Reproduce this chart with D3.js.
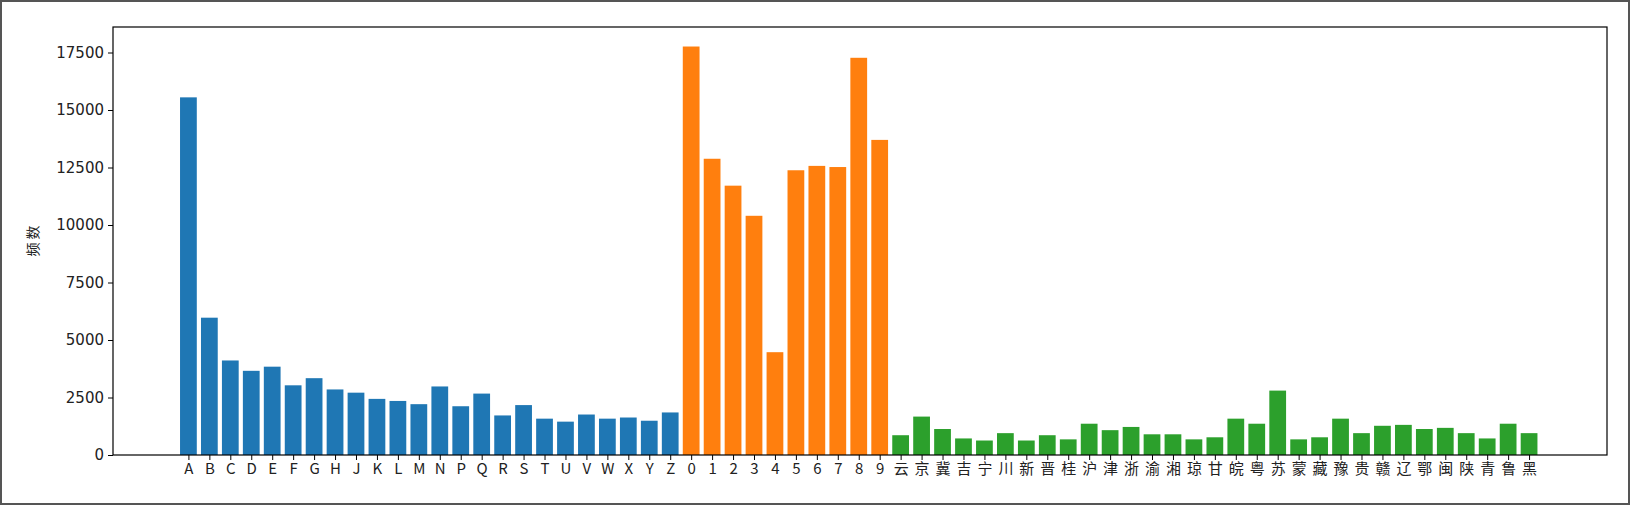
<!DOCTYPE html>
<html>
<head>
<meta charset="utf-8">
<script src="https://cdn.jsdelivr.net/npm/d3@7"></script>
<style>
  body { margin: 0; background: #fff; }
  svg text { font-family: "DejaVu Sans", sans-serif; fill: #222; }
</style>
</head>
<body>
<svg id="chart" width="1630" height="505"></svg>
<script>
// categories and frequencies
const letters = ["A","B","C","D","E","F","G","H","J","K","L","M","N","P","Q","R","S","T","U","V","W","X","Y","Z"];
const letterCounts = [15550,5970,4110,3660,3840,3030,3340,2850,2710,2440,2350,2210,2980,2120,2670,1720,2170,1580,1450,1760,1580,1630,1490,1850];
const digits = ["0","1","2","3","4","5","6","7","8","9"];
const digitCounts = [17760,12880,11710,10400,4470,12380,12570,12520,17270,13700];
const provinces = ["云","京","冀","吉","宁","川","新","晋","桂","沪","津","浙","渝","湘","琼","甘","皖","粤","苏","蒙","藏","豫","贵","赣","辽","鄂","闽","陕","青","鲁","黑"];
const provinceCounts = [860,1670,1130,720,630,950,630,860,680,1360,1080,1220,900,900,680,770,1580,1360,2800,680,770,1580,950,1270,1310,1130,1180,950,720,1360,950];
const yTicks = [0,2500,5000,7500,10000,12500,15000,17500];

const groups = [
  { labels: letters, values: letterCounts, color: "#1f77b4" },
  { labels: digits, values: digitCounts, color: "#ff7f0e" },
  { labels: provinces, values: provinceCounts, color: "#2ca02c" }
];

const bars = [];
groups.forEach(g => g.labels.forEach((l, i) => bars.push({ label: l, value: g.values[i], color: g.color })));
bars.forEach((d, i) => d.index = i);

const svg = d3.select("#chart");
const m = { left: 113, right: 1607, top: 27, bottom: 455 };

svg.append("rect").attr("x", 1).attr("y", 1).attr("width", 1628).attr("height", 503)
  .attr("fill", "none").attr("stroke", "#555").attr("stroke-width", 2);

const x = d3.scaleLinear().domain([-3.6, bars.length - 1 + 3.72]).range([m.left, m.right]);
const y = d3.scaleLinear().domain([0, 17500]).range([m.bottom, 52.5]);
const bw = (x(1) - x(0)) * 0.8;

svg.selectAll(".bar")
  .data(bars)
  .join("rect")
  .attr("class", "bar")
  .attr("x", d => x(d.index) - bw / 2)
  .attr("width", bw)
  .attr("y", d => y(d.value))
  .attr("height", d => m.bottom - y(d.value))
  .attr("fill", d => d.color);

// y axis
const yAxis = svg.append("g")
  .attr("transform", `translate(${m.left},0)`)
  .call(d3.axisLeft(y).tickValues(yTicks).tickSize(5).tickPadding(4).tickFormat(d3.format("d")));
yAxis.select(".domain").remove();
yAxis.selectAll("text").style("font-size", "15px");

// x axis
const xAxis = svg.append("g")
  .attr("transform", `translate(0,${m.bottom})`)
  .call(d3.axisBottom(x).tickValues(bars.map(d => d.index)).tickSize(5).tickPadding(3)
    .tickFormat(i => bars[i].label));
xAxis.select(".domain").remove();
xAxis.selectAll("text")
  .style("font-family", "'Noto Sans CJK SC', sans-serif")
  .style("font-size", "15px");

// frame
svg.append("rect").attr("x", m.left).attr("y", m.top)
  .attr("width", m.right - m.left).attr("height", m.bottom - m.top)
  .attr("fill", "none").attr("stroke", "#000").attr("stroke-width", 1.2);

svg.append("text")
  .attr("transform", `translate(38,${(m.top + m.bottom) / 2}) rotate(-90)`)
  .attr("text-anchor", "middle")
  .style("font-family", "'Noto Sans CJK SC', sans-serif")
  .style("font-size", "14px")
  .text("频 数");
</script>
</body>
</html>
